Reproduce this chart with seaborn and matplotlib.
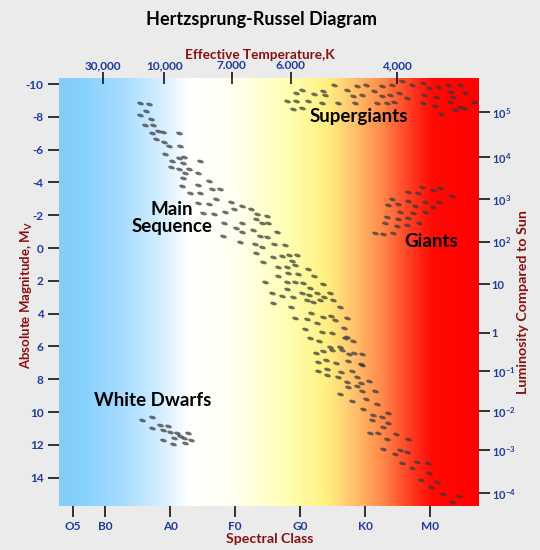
import numpy as np
import pandas as pd
import matplotlib
matplotlib.use("Agg")
import matplotlib.pyplot as plt
import seaborn as sns
from matplotlib.colors import LinearSegmentedColormap
from matplotlib.markers import MarkerStyle
from matplotlib.path import Path
from matplotlib.transforms import Affine2D

# spectral class axis: O=0, B=1, A=2, F=3, G=4, K=5, M=6
spectral_labels = ["O5", "B0", "A0", "F0", "G0", "K0", "M0"]
spectral_pos = [0.5, 1, 2, 3, 4, 5, 6]

temp_labels = ["30,000", "10,000", "7.000", "6.000", "4,000"]
temp_pos = [0.97, 1.91, 2.95, 3.86, 5.49]

mag_ticks = [-10, -8, -6, -4, -2, 0, 2, 4, 6, 8, 10, 12, 14]

lum_labels = ["$10^5$", "$10^4$", "$10^3$", "$10^2$", "10", "1",
              "$10^{-1}$", "$10^{-2}$", "$10^{-3}$", "$10^{-4}$"]
lum_pos = [-8.29, -5.55, -2.99, -0.37, 2.2, 5.18, 7.5, 9.94, 12.32, 14.94]

# stars: (spectral position, absolute magnitude)
main_seq_s = [1.54, 1.68, 1.63, 1.54, 1.71, 1.62, 1.74, 1.72, 1.82, 1.89, 2.14, 1.78, 1.91, 1.98, 2.15,
              1.92, 2.03, 2.14, 2.22, 2.46, 2.02, 2.14, 2.2, 2.29, 2.23, 2.43, 2.2, 2.6, 2.18, 2.43,
              2.65, 2.77, 2.31, 2.46, 2.71, 2.43, 2.6, 2.94, 3.11, 3.25, 2.51, 2.68, 2.85, 2.98, 3.34,
              3.49, 2.83, 3.02, 3.32, 3.42, 3.51, 3.11, 2.82, 3.11, 3.28, 3.38, 3.49, 3.65, 3.08, 3.31,
              3.42, 3.6, 3.77,
              3.32, 3.43, 3.58, 3.72, 3.83, 3.95, 3.88, 3.92, 3.66, 3.8, 3.46, 3.66, 3.82, 3.97, 4.12,
              4.22, 3.8, 3.92, 3.57, 3.72, 3.58, 3.8, 3.89, 4.03, 4.05, 4.15, 4.35, 4.46, 4.11, 4.2,
              4.31, 4.37, 4.51, 4.14, 4.26, 4.62, 3.86, 3.92, 4.11, 4.17, 4.35, 4.48, 4.54, 4.72, 4.08,
              4.26, 4.34, 4.49, 4.68, 4.72, 4.82, 4.15, 4.29, 4.46, 4.62, 4.69, 4.25, 4.35, 4.49, 4.65,
              4.75, 4.83, 4.95, 4.28, 4.4, 4.55, 4.74, 4.95, 4.28, 4.42, 4.42, 4.58, 4.63, 4.8, 4.88,
              4.94, 4.72, 4.74, 4.88, 4.94, 5.06, 4.62, 4.95, 5.15, 4.8, 5.02, 5.18, 4.97, 5.12, 5.26,
              5.35, 5.11, 5.35, 5.28, 5.08, 5.2, 5.34, 5.48, 5.66, 5.28, 5.46, 5.54, 5.65, 5.57, 5.72,
              5.8, 5.97, 5.86, 5.98, 6.11, 6.02, 6.2, 6.45, 6.34]
main_seq_m = [-8.84, -8.8, -8.35, -8.1, -7.87, -7.5, -7.5, -7.0, -7.13, -7.07, -7.0, -6.65, -6.46, -6.22, -6.22,
              -5.73, -5.3, -5.49, -5.55, -5.3, -4.94, -4.82, -5.18, -4.82, -4.57, -4.57, -4.27, -4.09, -3.78, -3.84,
              -3.6, -3.6, -3.35, -3.35, -2.99, -2.74, -2.68, -2.8, -2.56, -2.38, -2.13, -2.07, -2.2, -2.38, -2.07,
              -1.95, -1.52, -1.22, -1.77, -1.52, -1.52, -1.52, -0.73, -0.98, -1.1, -0.73, -0.67, -0.98, -0.37, -0.24,
              -0.06, -0.24, -0.18,
              0.3, 0.85, 0.55, 0.49, 0.43, 0.43, 0.79, 1.04, 1.16, 1.16, 2.07, 1.71, 1.52, 1.59, 1.28,
              1.71, 2.07, 2.07, 2.74, 2.93, 3.35, 2.5, 2.99, 2.74, 2.13, 2.44, 2.2, 2.74, 3.17, 3.29,
              3.17, 2.99, 3.17, 2.87, 2.74, 3.6, 3.6, 4.27, 4.33, 3.96, 4.21, 4.15, 4.39, 4.27, 4.94,
              4.57, 5.12, 5.18, 4.88, 5.43, 5.67, 5.49, 5.67, 6.04, 6.04, 5.49, 6.4, 6.28, 6.22, 6.22,
              6.46, 6.4, 6.46, 6.95, 6.83, 7.01, 6.89, 7.13, 7.5, 7.38, 7.74, 7.87, 7.56, 7.5, 7.87,
              7.07, 8.17, 8.48, 8.41, 8.23, 8.11, 8.9, 8.72, 8.72, 9.33, 9.21, 9.51, 9.82, 10.18, 10.3,
              10.06, 10.49, 10.67, 10.91, 11.28, 11.28, 11.65, 11.34, 11.65, 12.26, 12.56, 12.32, 12.44, 13.11, 13.41,
              13.05, 13.11, 14.15, 13.72, 14.27, 14.57, 15.0, 15.12, 15.49]

supergiant_s = [3.94, 4.03, 3.8, 3.94, 4.12, 3.89, 4.03, 4.22, 4.35, 4.52, 4.38, 4.34, 4.58, 4.72, 4.88,
                5.02, 4.82, 4.95, 4.85, 5.14, 5.26, 5.42, 5.57, 5.26, 5.38, 5.52, 5.18, 5.34, 5.45, 5.65,
                5.72, 5.89, 5.98, 6.12, 6.28, 6.46, 5.91, 6.09, 6.32, 6.35, 6.54, 5.89, 6.08, 6.31, 6.46,
                6.68, 6.17, 6.38, 6.52]
supergiant_m = [-9.45, -9.63, -8.96, -8.96, -8.96, -8.48, -8.54, -9.39, -9.57, -9.94, -9.33, -8.84, -8.84, -9.63, -9.88,
                -9.94, -9.27, -9.33, -8.84, -9.57, -9.88, -9.94, -10.18, -9.27, -9.33, -9.45, -8.84, -8.84, -8.9, -9.15,
                -9.94, -10.06, -9.76, -9.82, -9.94, -9.94, -9.33, -9.21, -9.51, -9.21, -9.45, -8.84, -8.66, -8.9, -8.6,
                -8.9, -8.17, -8.41, -8.54]

giant_s = [5.88, 6.05, 6.15, 5.66, 5.82, 6.34, 5.42, 5.66, 5.92, 6.14, 5.35, 5.51, 5.77, 6.05, 5.54,
           5.74, 5.92, 5.34, 5.51, 5.66, 5.31, 5.49, 5.65, 5.83, 5.15, 5.28, 5.43]
giant_m = [-3.72, -3.54, -3.66, -3.41, -3.35, -3.17, -2.99, -2.87, -2.8, -2.8, -2.62, -2.68, -2.56, -2.5, -2.2,
           -2.13, -2.2, -1.89, -1.77, -1.83, -1.52, -1.34, -1.4, -1.52, -0.91, -0.85, -0.91]

dwarf_s = [1.72, 1.57, 1.85, 1.97, 1.72, 1.89, 2.0, 2.11, 2.28, 2.15, 2.06, 2.22, 2.32, 1.89, 2.05, 2.23]
dwarf_m = [10.3, 10.49, 10.79, 10.85, 10.98, 11.1, 11.22, 11.28, 11.28, 11.46, 11.59, 11.59, 11.71, 11.71, 11.95, 11.89]

stars = pd.concat([
    pd.DataFrame({"spectral": main_seq_s, "mag": main_seq_m, "group": "Main Sequence"}),
    pd.DataFrame({"spectral": supergiant_s, "mag": supergiant_m, "group": "Supergiants"}),
    pd.DataFrame({"spectral": giant_s, "mag": giant_m, "group": "Giants"}),
    pd.DataFrame({"spectral": dwarf_s, "mag": dwarf_m, "group": "White Dwarfs"}),
])

BLUE = "#1c3aa0"
DARKRED = "#8a0f0f"
BG = "#ebebeb"
FONT = "Lato"

sns.set_theme(style="white")
plt.rcParams["font.family"] = [FONT, "DejaVu Sans"]
plt.rcParams["mathtext.fontset"] = "custom"
plt.rcParams["mathtext.rm"] = FONT + ":bold"
plt.rcParams["mathtext.it"] = FONT + ":bold"
plt.rcParams["mathtext.bf"] = FONT + ":bold"

fig = plt.figure(figsize=(5.4, 5.5), dpi=100, facecolor=BG)
ax = fig.add_axes([59 / 540, 1 - 506 / 550, 420 / 540, 428 / 550])

xlim = (0.292, 6.754)
ylim = (15.73, -10.37)

# temperature colour band behind the stars
band = LinearSegmentedColormap.from_list("band", [
    (0.00, "#86cdf6"), (0.05, "#84d0ff"), (0.15, "#a6dcff"), (0.25, "#d8f0ff"),
    (0.31, "#ffffff"), (0.42, "#fffff0"), (0.55, "#ffffb0"), (0.64, "#fff080"),
    (0.70, "#ffc46e"), (0.77, "#ff8a4a"), (0.84, "#ff3a22"), (0.89, "#ff0a05"),
    (1.00, "#ff0000")])
ax.imshow(np.linspace(0, 1, 256).reshape(1, -1), cmap=band, aspect="auto",
          extent=(xlim[0], xlim[1], ylim[0], ylim[1]), zorder=0)

# small tilted dash used for each star
circle = Path.unit_circle()
dash = MarkerStyle(circle.transformed(Affine2D().scale(1, 0.5).rotate_deg(-15)))
sns.scatterplot(data=stars, x="spectral", y="mag", marker=dash, s=24,
                color="#383838", alpha=0.72, linewidth=0, legend=False, ax=ax, zorder=3)

ax.set_xlim(*xlim)
ax.set_ylim(*ylim)
for sp in ax.spines.values():
    sp.set_visible(False)

tick_font = dict(color=BLUE, fontweight="bold", fontsize=8.5)
ax.set_xticks(spectral_pos)
ax.set_xticklabels(spectral_labels, **tick_font)
ax.set_yticks(mag_ticks)
ax.set_yticklabels([str(t) for t in mag_ticks], **tick_font)
ax.tick_params(axis="both", direction="out", length=8, width=1.1, color="black",
               bottom=True, left=True, pad=3)
ax.set_xlabel("")
ax.set_ylabel("")

top = ax.twiny()
top.set_xlim(*xlim)
top.set_xticks(temp_pos)
top.set_xticklabels(temp_labels, **tick_font)
top.tick_params(axis="x", direction="inout", length=8, width=1.1, color="black", top=True, pad=1)
for sp in top.spines.values():
    sp.set_visible(False)

right = ax.twinx()
right.set_ylim(*ylim)
right.set_yticks(lum_pos)
right.set_yticklabels(lum_labels, color=BLUE, fontweight="bold", fontsize=8)
right.tick_params(axis="y", direction="out", length=8, width=1.1, color="black", right=True, pad=1)
for sp in right.spines.values():
    sp.set_visible(False)
right.grid(False)
top.grid(False)

label_font = dict(fontweight="bold", fontsize=13.5, color="black", ha="center", va="center", zorder=4)
ax.text(2.03, -1.83, "Main\nSequence", linespacing=1.0, **label_font)
ax.text(4.91, -8.0, "Supergiants", **label_font)
ax.text(6.02, -0.4, "Giants", **label_font)
ax.text(1.74, 9.27, "White Dwarfs", **label_font)

fig.text(262 / 540, 1 - 19 / 550, "Hertzsprung-Russel Diagram", ha="center", va="center",
         fontsize=13, fontweight="bold", color="black")
fig.text(260 / 540, 1 - 55 / 550, "Effective Temperature,K", ha="center", va="center",
         fontsize=9.8, fontweight="bold", color=DARKRED)
fig.text(270 / 540, 1 - 539 / 550, "Spectral Class", ha="center", va="center",
         fontsize=10.2, fontweight="bold", color=DARKRED)
fig.text(27 / 540, 1 - 295 / 550, "Absolute Magnitude, M$_V$", ha="center", va="center",
         rotation=90, fontsize=9.5, fontweight="bold", color=DARKRED)
fig.text(523 / 540, 1 - 302 / 550, "Luminosity Compared to Sun", ha="center", va="center",
         rotation=90, fontsize=10.3, fontweight="bold", color=DARKRED)

fig.savefig("out.png", dpi=100, facecolor=BG)
